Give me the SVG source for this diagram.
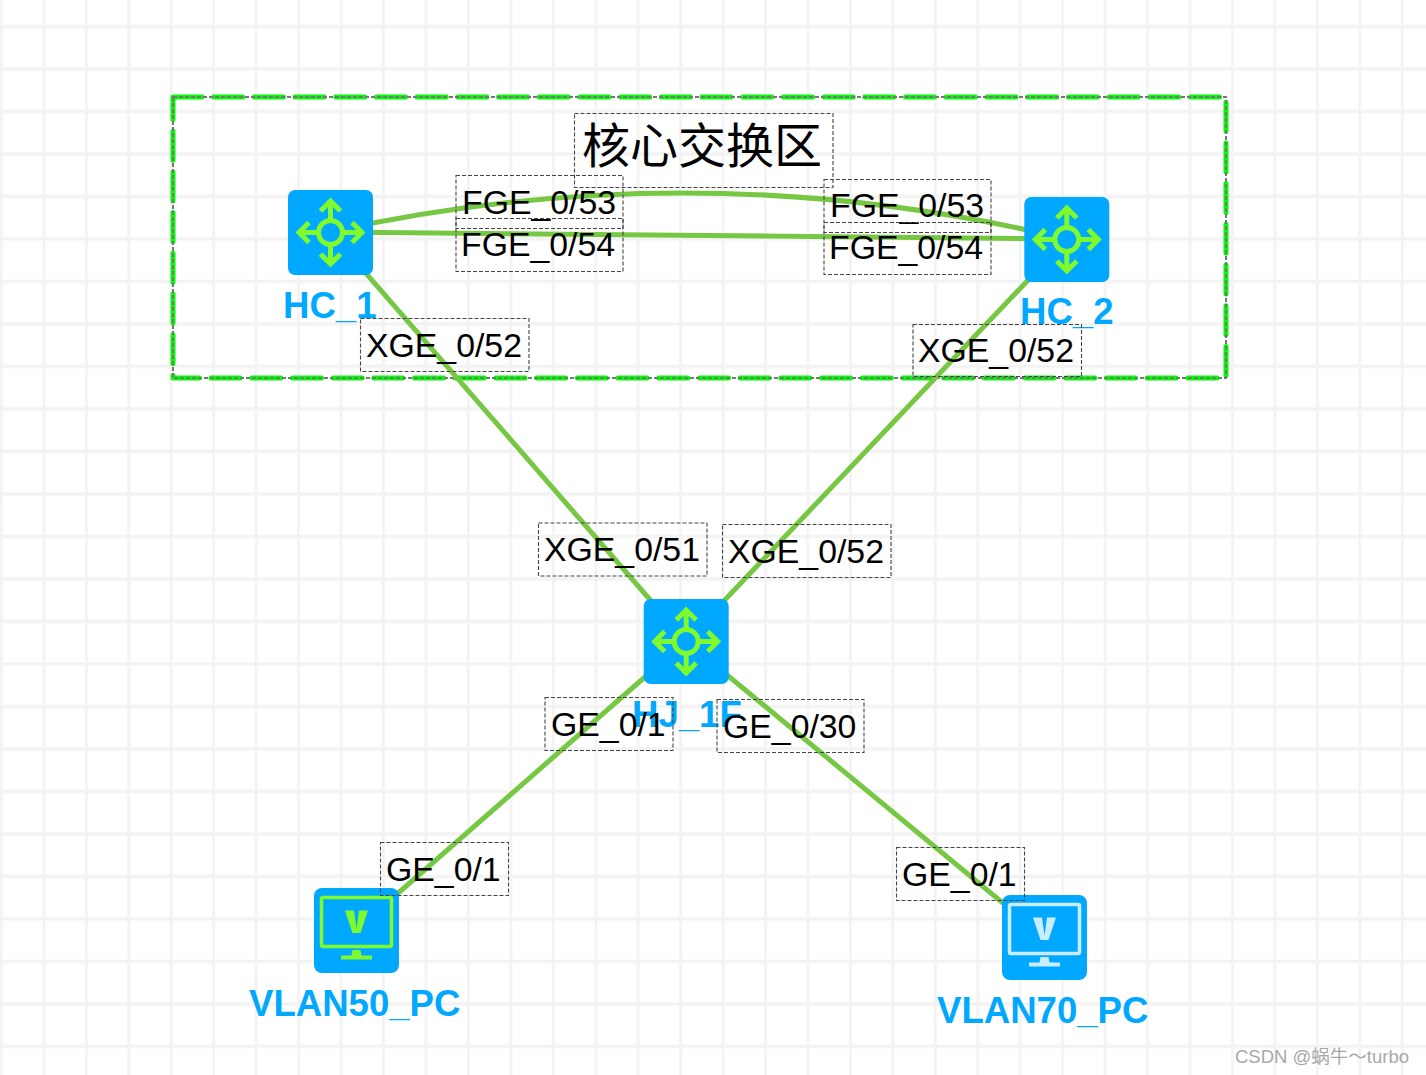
<svg xmlns="http://www.w3.org/2000/svg" xmlns:xlink="http://www.w3.org/1999/xlink" width="1426" height="1075" viewBox="0 0 1426 1075">
<style>
.lbl{font-family:"Liberation Sans",Arial,sans-serif;font-size:33.8px;fill:#000}
.name{font-family:"Liberation Sans",Arial,sans-serif;font-size:36.6px;font-weight:bold;fill:#00a8ff}
.box{fill:none;stroke:#444;stroke-width:1.1;stroke-dasharray:4 2}
.link{fill:none;stroke:#76c843;stroke-width:5}
.tile{fill:#00a8ff}
.sw{fill:none;stroke:#7ffa2c;stroke-width:5}
</style>
<defs>
<pattern id="grid" patternUnits="userSpaceOnUse" x="0" y="5" width="42.45" height="42.5">
<path d="M1 0V42.5M0 21.5H42.45" fill="none" stroke="#f3f3f3" stroke-width="3.6"/>
</pattern>
<g id="switch">
<rect class="tile" x="-42.5" y="-42.5" width="85" height="85" rx="7"/>
<circle class="sw" r="12"/>
<path class="sw" d="M0-12V-30M-10-21.5L0-31.5L10-21.5M0 12V30M-10 21.5L0 31.5L10 21.5M-12 0H-30M-21.5-10L-31.5 0L-21.5 10M12 0H30M21.5-10L31.5 0L21.5 10"/>
</g>
<g id="pc">
<rect class="tile" x="-42.5" y="-42.5" width="85" height="85" rx="8"/>
<rect x="-35" y="-33" width="70" height="49" rx="1.5" fill="none" stroke="currentColor" stroke-width="3.5"/>
<path d="M-11.500-23H-2.500L0-5L2.500-23H11.500L4-.5H-4Z" fill="currentColor" transform="translate(0 3)"/>
<path d="M-4 19.500H4L5 25H15.500V29H-15.500V25H-5Z" fill="currentColor"/>
</g>
</defs>
<rect width="1426" height="1075" fill="#fff"/>
<rect width="1426" height="1075" fill="url(#grid)"/>
<g id="zone">
<path d="M173 97H1226V378H173Z" fill="none" stroke="#0f0" stroke-width="5" stroke-linecap="round" stroke-linejoin="round" stroke-dasharray="29 11.7"/>
<path d="M173 97H1226V378H173Z" fill="none" stroke="#777" stroke-width="2" stroke-dasharray="4 2"/>
</g>
<g id="connectors">
<path class="link" d="M330 232Q698 150.500 1067 239"/>
<path class="link" d="M330 232L1067 239"/>
<path class="link" d="M330 232L686 641"/>
<path class="link" d="M1067 239L686 641"/>
<path class="link" d="M686 641L356 930"/>
<path class="link" d="M686 641L1044 937"/>
</g>
<g id="HC_1"><use xlink:href="#switch" href="#switch" transform="translate(330.500 232.500)"/><text class="name" x="283" y="318">HC_1</text></g>
<g id="HC_2"><use xlink:href="#switch" href="#switch" transform="translate(1066.800 239.500)"/><text class="name" x="1020" y="324">HC_2</text></g>
<g id="HJ_1F"><use xlink:href="#switch" href="#switch" transform="translate(686.200 641.500)"/><text class="name" x="632" y="727">HJ_1F</text></g>
<g id="VLAN50_PC"><use xlink:href="#pc" href="#pc" color="#7ffa2c" transform="translate(356.500 930.500)"/><text class="name" x="249" y="1016">VLAN50_PC</text></g>
<g id="VLAN70_PC"><use xlink:href="#pc" href="#pc" color="#c9ecff" transform="translate(1044.500 937.500)"/><text class="name" x="937" y="1023">VLAN70_PC</text></g>
<g id="labels">
<rect class="box" x="574.500" y="113.500" width="258.500" height="74"/>
<text x="582" y="163" font-family="'Liberation Serif','Noto Sans CJK SC',serif" font-size="48" fill="#000">核心交换区</text>
<rect class="box" x="456" y="175.500" width="167" height="53"/><text class="lbl" x="462" y="214">FGE_0/53</text>
<rect class="box" x="456" y="218.500" width="167" height="53"/><text class="lbl" x="461" y="256">FGE_0/54</text>
<rect class="box" x="824" y="179.500" width="167" height="53"/><text class="lbl" x="830" y="217">FGE_0/53</text>
<rect class="box" x="824" y="222.500" width="167" height="52"/><text class="lbl" x="829" y="259">FGE_0/54</text>
<rect class="box" x="360.500" y="318.500" width="168.500" height="53"/><text class="lbl" x="366" y="357">XGE_0/52</text>
<rect class="box" x="913" y="324.500" width="168.500" height="52"/><text class="lbl" x="918" y="362">XGE_0/52</text>
<rect class="box" x="538.500" y="523" width="168.500" height="53"/><text class="lbl" x="544" y="561">XGE_0/51</text>
<rect class="box" x="722.500" y="524.500" width="168.500" height="53"/><text class="lbl" x="728" y="563">XGE_0/52</text>
<rect class="box" x="545" y="697.500" width="128" height="53"/><text class="lbl" x="551" y="736">GE_0/1</text>
<rect class="box" x="717" y="699.500" width="147" height="53"/><text class="lbl" x="723" y="738">GE_0/30</text>
<rect class="box" x="380.500" y="842.500" width="128" height="53"/><text class="lbl" x="386" y="881">GE_0/1</text>
<rect class="box" x="896.500" y="847.500" width="128" height="53"/><text class="lbl" x="902" y="886">GE_0/1</text>
</g>
<text x="1235" y="1063" font-family="'Liberation Sans','Noto Sans CJK SC',sans-serif" font-size="18.500" fill="#a8a8a8">CSDN @蜗牛～turbo</text>
</svg>
